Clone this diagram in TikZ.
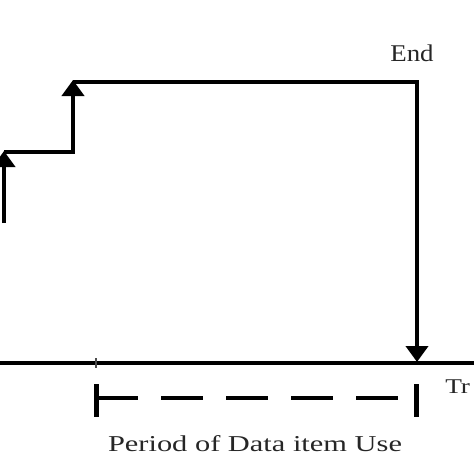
\documentclass[tikz,border=0pt]{standalone}
\usepackage{fontspec}
\setmainfont{Liberation Serif}
\usetikzlibrary{arrows.meta}
\begin{document}
\begin{tikzpicture}[x=1pt,y=-1pt,
  flow/.style={line width=4pt,line join=miter,draw=black},
  tipped/.style={flow,-{Triangle[length=16pt,width=22pt]}},
  bar/.style={line width=5pt,draw=black},
  span/.style={line width=3.2pt,draw=black,dash pattern=on 42pt off 23pt},
  lbl/.style={inner sep=0pt,text=black!85}]
\useasboundingbox (0,0) rectangle (474,474);
\coordinate (a0) at (4,223);
\coordinate (a1) at (4,151);
\coordinate (b0) at (73,152);
\coordinate (b1) at (73,80);
\coordinate (c) at (417,81.5);
\coordinate (d) at (417,362);
\coordinate (ax0) at (-5,363);
\coordinate (ax1) at (480,363);
\coordinate (s0) at (96,398);
\coordinate (s1) at (402,398);
\coordinate (l0) at (96,384);
\coordinate (l1) at (96,417);
\coordinate (r0) at (416,384);
\coordinate (r1) at (416,417);
\coordinate (t0) at (96,358);
\coordinate (t1) at (96,368);
% axis
\draw[line width=4.5pt] (ax0) -- (ax1);
\draw[line width=1.5pt,draw=black!70] (t0) -- (t1);
% staircase
\draw[tipped] (a0) -- (a1);
\draw[tipped] (4,152) -- (b0) -- (b1);
\draw[tipped] (73,81.5) -- (c) -- (d);
% period span
\draw[span] (s0) -- (s1);
\draw[bar] (l0) -- (l1);
\draw[bar] (r0) -- (r1);
% labels
\node[lbl,anchor=base,font=\fontsize{24}{24}\selectfont,xscale=1.12] (endl) at (412,61) {End};
\node[lbl,anchor=base west,font=\fontsize{21}{21}\selectfont,xscale=1.3] (tr) at (445,393) {Tr};
\node[lbl,anchor=base,font=\fontsize{22.7}{22.7}\selectfont,xscale=1.34] (per) at (255,451) {Period of Data item Use};
\end{tikzpicture}
\end{document}
